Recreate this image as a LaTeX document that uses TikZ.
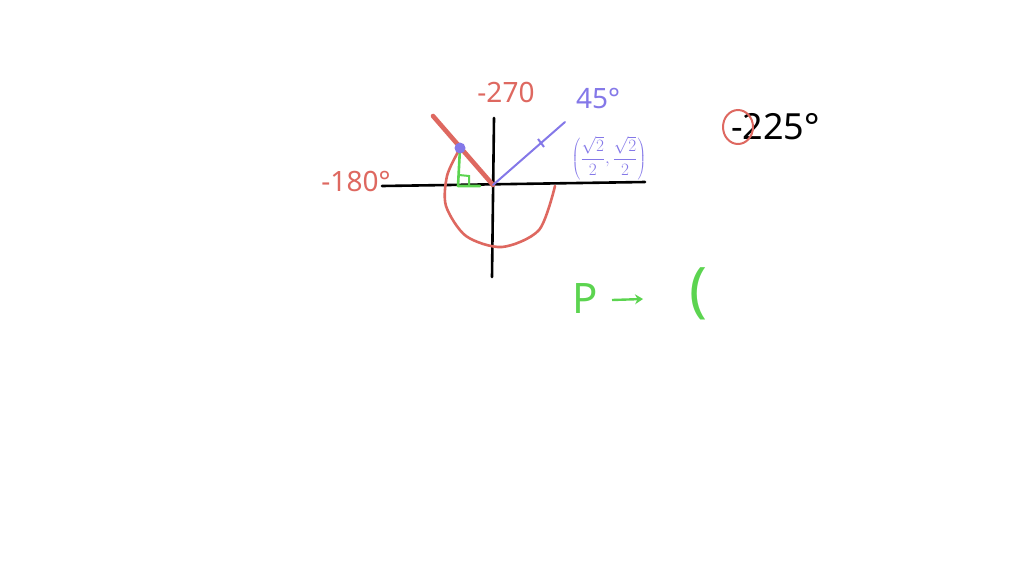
\documentclass[tikz,border=0pt]{standalone}
\usepackage{fontspec}
\setmainfont{Noto Sans}
\usetikzlibrary{arrows.meta,positioning,calc}
\definecolor{penred}{RGB}{222,104,96}
\definecolor{penblue}{RGB}{132,120,232}
\definecolor{pengreen}{RGB}{92,212,80}
\tikzset{pen/.style={line width=2.6pt, line cap=round, line join=round},
  hand/.style={inner sep=0pt, font=\fontsize{28}{28}\selectfont}
}

\begin{document}
\begin{tikzpicture}[> = stealth, x=1pt, y=-1pt]
   \useasboundingbox (0,0) rectangle (1024,576);
   % axes
   \coordinate (O) at (493,185);
   \coordinate (xl) at (382,186);
   \coordinate (xr) at (645,182);
   \coordinate (yt) at (494,118);
   \coordinate (yb) at (492,277);
   \draw[pen] (xl) -- (xr);
   \draw[pen] (yt) -- (yb);

   % the -225 turn
   \draw[pen, penred] plot[smooth] coordinates {(458,152) (447,176) (446,206) (466,236) (502,247) (539,230) (555,186)};
   \coordinate (rtop) at (433,116);
   \draw[penred, line width=4.6pt, line cap=round] (rtop) -- (O);

   % 45 degree ray
   \coordinate (ray) at (565,122);
   \coordinate (tick) at (541,143);
   \draw[penblue, line width=2pt, line cap=round] (O) -- (ray);
   \draw[penblue, line width=2pt] ($(tick)+(-3,-4)$) -- ($(tick)+(3,4)$);

   % triangle
   \coordinate (P) at (460,148);
   \coordinate (foot) at (458,186);
   \coordinate (base) at (480,186);
   \draw[pen, pengreen] (P) -- (foot) -- (base);
   \draw[pengreen, line width=2pt] (459,175) -- (469,176) -- (469,185);
   \fill[penblue] (P) circle (5.5);

   % labels
   \node[hand, penred] (l270) at (506,92) {-270};
   \node[hand, penred] (l180) at (356,181) {-180°};
   \node[hand, penblue] (l45) at (598,99) {45°};
   \node[penblue, inner sep=0pt, font=\fontsize{19}{19}\selectfont] (pt) at (609,158)
      {$\displaystyle\left(\frac{\sqrt{2}}{2},\frac{\sqrt{2}}{2}\right)$};
   \node[hand, anchor=west, font=\fontsize{36}{36}\selectfont] (ans) at (731,127) {-225°};
   \draw[penred, line width=2pt] (738,127) ellipse (15 and 17);

   \node[hand, pengreen, font=\fontsize{42}{42}\selectfont] (Pt) at (585,298) {P};
   \coordinate (as) at (612,300);
   \coordinate (ae) at (643,299);
   \draw[pengreen, line width=2.4pt, -{Stealth[length=8pt,width=10pt]}] (as) -- (ae);
   \node[hand, pengreen, font=\fontsize{60}{60}\selectfont] (par) at (698,294) {(};
\end{tikzpicture}
\end{document}
